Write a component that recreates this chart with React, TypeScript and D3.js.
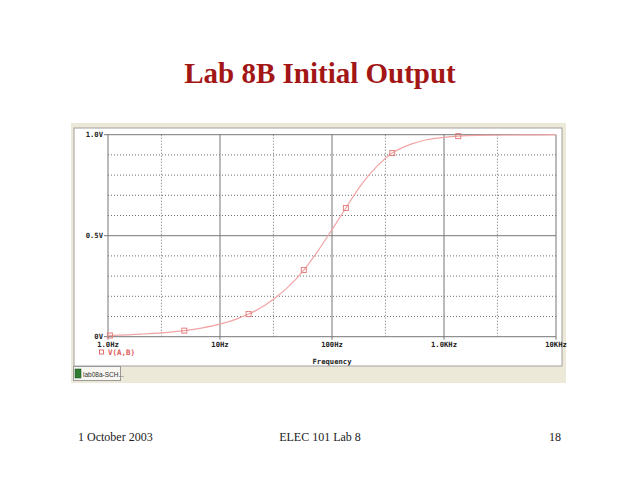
import React from "react";
import * as d3 from "d3";

// Data (frequency in Hz, voltage in V)
const freqs = [1, 2, 3, 4.8, 7, 10, 14, 18, 25, 30, 40, 56, 75, 100, 133, 180, 250, 345, 500, 700, 1000, 1340, 2000, 5000, 10000];
const volts = [0.006, 0.013, 0.019, 0.03, 0.044, 0.062, 0.087, 0.112, 0.154, 0.185, 0.243, 0.33, 0.425, 0.53, 0.637, 0.748, 0.842, 0.909, 0.952, 0.975, 0.987, 0.993, 0.997, 0.999, 1.0];
const markerFreqs = [1.04, 4.8, 18, 56, 133, 345, 1340];
const markerVolts = [0.006, 0.03, 0.112, 0.33, 0.637, 0.909, 0.993];

const xTickVals = [1, 10, 100, 1000, 10000];
const xTickLabels = ["1.0Hz", "10Hz", "100Hz", "1.0KHz", "10KHz"];
const xMinorVals = [3, 30, 300, 3000];
const yTickVals = [0, 0.5, 1.0];
const yTickLabels = ["0V", "0.5V", "1.0V"];
const yMinorVals = [0.1, 0.2, 0.3, 0.4, 0.6, 0.7, 0.8, 0.9];

const title = "Lab 8B Initial Output";
const footerLeft = "1 October 2003";
const footerMid = "ELEC 101 Lab 8";
const footerRight = "18";
const seriesName = "V(A,B)";
const xAxisTitle = "Frequency";
const tabName = "lab08a-SCH...";

export default function App() {
  const x = d3.scaleLog().domain([1, 10000]).range([108, 556]);
  const y = d3.scaleLinear().domain([0, 1]).range([336.7, 134.7]);
  const pts: [number, number][] = freqs.map((f, i) => [x(f), y(volts[i])]);
  const line = d3.line().curve(d3.curveMonotoneX)(pts) || "";
  const mono = "'DejaVu Sans Mono', monospace";
  const grid = "#6f6f6f";
  const curveCol = "#f2a4a4";
  const serif = "'Liberation Serif', 'Times New Roman', serif";

  return (
    <svg width={638} height={493} style={{ position: "absolute", left: 0, top: 0, background: "#fff" }}>
      <rect x={0} y={0} width={638} height={493} fill="#ffffff" />
      <text x={320} y={83} textAnchor="middle" fontFamily={serif} fontWeight="bold" fontSize={29} fill="#a31616">{title}</text>

      {/* window frame */}
      <rect x={71} y={123} width={495} height={260} fill="#ece9d8" />
      <rect x={74} y={128} width={488} height={238} fill="#ffffff" stroke="#a0a0a0" strokeWidth={1} />
      {/* tab */}
      <rect x={73.5} y={366.5} width={47} height={14} fill="#f7f6f0" stroke="#9a9a9a" />
      <rect x={75} y={369} width={6} height={9} fill="#2e7d32" stroke="#1b4d1e" strokeWidth={0.5} />
      <text x={83} y={376.5} fontFamily="'Liberation Sans', Arial, sans-serif" fontSize={6.5} fill="#333">{tabName}</text>

      {/* minor grid */}
      {xMinorVals.map((v) => (
        <line key={"xm" + v} x1={x(v)} x2={x(v)} y1={y(1)} y2={y(0)} stroke={grid} strokeWidth={1} strokeDasharray="1,2" />
      ))}
      {yMinorVals.map((v) => (
        <line key={"ym" + v} x1={x(1)} x2={x(10000)} y1={y(v)} y2={y(v)} stroke={grid} strokeWidth={1} strokeDasharray="1,2" />
      ))}
      {/* major grid */}
      {xTickVals.map((v) => (
        <line key={"xM" + v} x1={x(v)} x2={x(v)} y1={y(1)} y2={y(0) + 3} stroke="#777" strokeWidth={1} />
      ))}
      {yTickVals.map((v) => (
        <line key={"yM" + v} x1={x(1) - 4} x2={x(10000)} y1={y(v)} y2={y(v)} stroke="#777" strokeWidth={1} />
      ))}

      {/* curve */}
      <path d={line} fill="none" stroke={curveCol} strokeWidth={1.2} />
      {markerFreqs.map((f, i) => (
        <rect key={"m" + i} x={x(f) - 2.5} y={y(markerVolts[i]) - 2.5} width={5} height={5} fill="none" stroke="#e58080" strokeWidth={1} />
      ))}

      {/* labels */}
      {yTickVals.map((v, i) => (
        <text key={"yl" + v} x={103} y={y(v) + 2.5} textAnchor="end" fontFamily={mono} fontWeight="bold" fontSize={7.2} fill="#222">{yTickLabels[i]}</text>
      ))}
      {xTickVals.map((v, i) => (
        <text key={"xl" + v} x={x(v)} y={347} textAnchor="middle" fontFamily={mono} fontWeight="bold" fontSize={7.2} fill="#222">{xTickLabels[i]}</text>
      ))}
      <rect x={99.5} y={350} width={4} height={4} fill="none" stroke="#e06060" strokeWidth={0.9} />
      <text x={108} y={354.5} fontFamily={mono} fontWeight="bold" fontSize={7.5} fill="#e05a5a">{seriesName}</text>
      <text x={332} y={363.5} textAnchor="middle" fontFamily={mono} fontWeight="bold" fontSize={7.2} fill="#222">{xAxisTitle}</text>

      {/* footer */}
      <text x={78} y={441} fontFamily={serif} fontSize={12} fill="#222">{footerLeft}</text>
      <text x={320} y={441} textAnchor="middle" fontFamily={serif} fontSize={12} fill="#222">{footerMid}</text>
      <text x={561} y={441} textAnchor="end" fontFamily={serif} fontSize={12} fill="#222">{footerRight}</text>
    </svg>
  );
}
